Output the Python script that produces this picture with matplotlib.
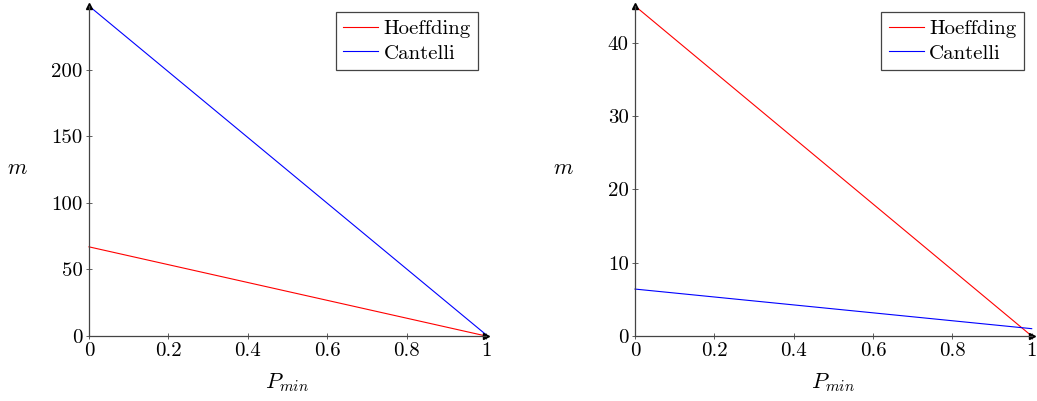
import matplotlib
matplotlib.use("Agg")
import matplotlib.pyplot as plt
from matplotlib.ticker import FixedLocator, FuncFormatter

plt.rcParams['font.family'] = 'serif'
plt.rcParams['font.serif'] = ['cmr10']
plt.rcParams['mathtext.fontset'] = 'cm'
plt.rcParams['axes.formatter.use_mathtext'] = True

# Data
p_min = [0, 1]
left_hoeffding = [67, 0]
left_cantelli = [248, 1]
right_hoeffding = [45, 0]
right_cantelli = [6.4, 1.0]
left_yticks = [0, 50, 100, 150, 200]
right_yticks = [0, 10, 20, 30, 40]
xticks = [0, 0.2, 0.4, 0.6, 0.8, 1]

fig = plt.figure(figsize=(10.37, 4.01), dpi=100)
W, H = 1037, 401
axL = fig.add_axes([89 / W, 1 - 336 / H, (486 - 89) / W, (336 - 6) / H])
axR = fig.add_axes([635 / W, 1 - 336 / H, (1031.7 - 635) / W, (336 - 6) / H])

def fmt(v, pos):
    if abs(v - round(v)) < 1e-9:
        return '%d' % round(v)
    return ('%.1f' % v)

spine_col = '#444444'
for ax, h, c, yt, ymax in [(axL, left_hoeffding, left_cantelli, left_yticks, 248),
                           (axR, right_hoeffding, right_cantelli, right_yticks, 45)]:
    ax.plot(p_min, h, color='red', lw=0.8, label='Hoeffding', clip_on=False)
    ax.plot(p_min, c, color='blue', lw=0.8, label='Cantelli', clip_on=False)
    ax.set_xlim(0, 1)
    ax.set_ylim(0, ymax)
    ax.spines['top'].set_visible(False)
    ax.spines['right'].set_visible(False)
    for s in ['left', 'bottom']:
        ax.spines[s].set_color(spine_col)
        ax.spines[s].set_linewidth(0.9)
    ax.xaxis.set_major_locator(FixedLocator(xticks))
    ax.yaxis.set_major_locator(FixedLocator(yt))
    ax.xaxis.set_major_formatter(FuncFormatter(fmt))
    ax.yaxis.set_major_formatter(FuncFormatter(fmt))
    ax.tick_params(direction='inout', length=5, width=0.6, color=spine_col,
                   labelsize=15, pad=2)
    ax.plot(1, 0, marker='>', color='black', markersize=4,
            transform=ax.get_yaxis_transform(), clip_on=False)
    ax.plot(0, 1, marker='^', color='black', markersize=4,
            transform=ax.get_xaxis_transform(), clip_on=False)
    ax.set_xlabel(r'$P_{min}$', fontsize=16)
    ax.xaxis.set_label_coords(0.5, -0.108)
    ax.set_ylabel(r'$m$', fontsize=16, rotation=0)
    ax.yaxis.set_label_coords(-0.181, 0.48)
    leg = ax.legend(loc='upper right', bbox_to_anchor=(0.98, 0.982),
                    fancybox=False, edgecolor=spine_col, fontsize=15,
                    handlelength=1.7, handletextpad=0.25, borderpad=0.35,
                    labelspacing=0.3, borderaxespad=0, framealpha=1)
    leg.get_frame().set_linewidth(0.9)

fig.savefig('out.png', dpi=100)
